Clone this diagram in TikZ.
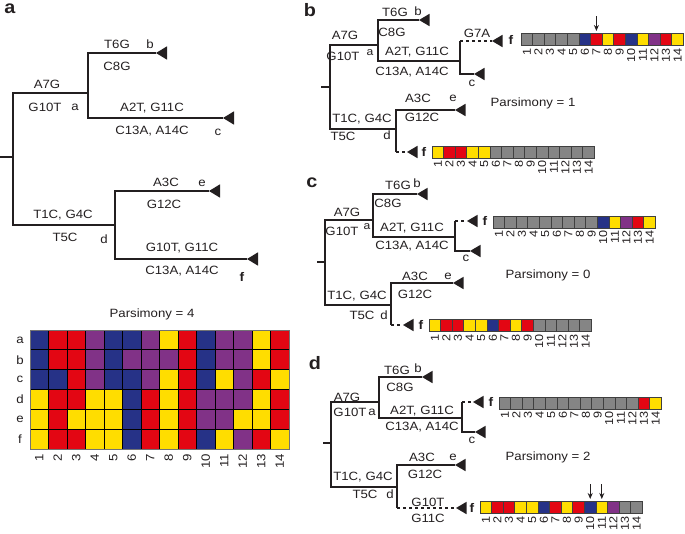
\documentclass[tikz,border=0pt]{standalone}
\usepackage{fontspec}
\setmainfont{Liberation Sans}[FakeStretch=1.1]
\usetikzlibrary{arrows.meta}
\definecolor{cB}{HTML}{263287}
\definecolor{cR}{HTML}{E30613}
\definecolor{cP}{HTML}{813287}
\definecolor{cY}{HTML}{FFDD00}
\definecolor{cG}{HTML}{858585}
\definecolor{ink}{HTML}{231F20}
\tikzset{
  lbl/.style={inner sep=0pt, text=ink, font=\fontsize{12}{12}\selectfont},
  small/.style={inner sep=0pt, text=ink, font=\fontsize{11}{11}\selectfont},
  fl/.style={inner sep=0pt, text=ink, font=\fontsize{12.5}{12}\selectfont\bfseries},
  panel/.style={inner sep=0pt, text=ink, font=\fontsize{18}{18}\selectfont\bfseries},
  num/.style={inner sep=0pt, text=ink, font=\fontsize{11.5}{11}\selectfont},
  br/.style={draw=ink, line width=1.3pt},
  brd/.style={draw=ink, line width=1.1pt, dash pattern=on 3pt off 3pt},
  leafA/.pic={\fill[ink] (0,0) -- (11,-6.7) -- (11,6.7) -- cycle;},
  leafB/.pic={\fill[ink] (0,0) -- (10.5,-6.2) -- (10.5,6.2) -- cycle;},
  mut/.style={-{Stealth[length=6pt,width=5pt]}, draw=ink, line width=1pt}
}
\newcommand{\hmrow}[3]{%
  \node[lbl] (hm#2) at (20,{330+(#1-0.5)*19.9}) {#2};
  \foreach \c [count=\i] in {#3} {
    \path[draw=black, line width=0.9pt, fill=c\c] ({30+(\i-1)*18.5},{330+(#1-1)*19.9}) rectangle ++(18.5,19.9);
  }}
\newcommand{\seqstrip}[4]{%
  \foreach \c [count=\i] in {#4} {
    \path[draw=black!75, line width=0.7pt, fill=c\c] ({#2+(\i-1)*11.6},#3) rectangle ++(11.6,12);
    \node[num, rotate=90, anchor=east] (#1\i) at ({#2+(\i-0.5)*11.6},{#3+14.5}) {\i};
  }}
\begin{document}
\begin{tikzpicture}[x=1pt,y=-1pt]
\useasboundingbox (0,0) rectangle (685,533);

% ---------------- panel a ----------------
\node[panel] (pa) at (10,9) {a};
\coordinate (aS) at (0,157);
\coordinate (aR) at (13,157);
\coordinate (aA) at (88,93);
\coordinate (aD) at (115,225);
\coordinate (aB) at (156,53);
\coordinate (aC) at (223,118);
\coordinate (aE) at (209,191);
\coordinate (aF) at (247,259);
\draw[br] (aS) -- (aR);
\draw[br] (aA) -| (aR) |- (aD);
\draw[br] (aB) -| (aA) |- (aC);
\draw[br] (aE) -| (aD) |- (aF);
\pic at (aB) {leafA}; \pic at (aC) {leafA}; \pic at (aE) {leafA}; \pic at (aF) {leafA};
\node[lbl] (a1) at (117,44) {T6G};
\node[lbl] (a2) at (150,44) {b};
\node[lbl] (a3) at (117,66) {C8G};
\node[lbl] (a4) at (47,84) {A7G};
\node[lbl] (a5) at (45,107) {G10T};
\node[lbl] (a6) at (75,107) {a};
\node[lbl] (a7) at (152,108) {A2T, G11C};
\node[lbl] (a8) at (152,131) {C13A, A14C};
\node[lbl] (a9) at (218,132) {c};
\node[lbl] (a10) at (166,182) {A3C};
\node[lbl] (a11) at (202,183) {e};
\node[lbl] (a12) at (164,204) {G12C};
\node[lbl] (a13) at (63,215) {T1C, G4C};
\node[lbl] (a14) at (65,237) {T5C};
\node[lbl] (a15) at (104,239) {d};
\node[lbl] (a16) at (182,248) {G10T, G11C};
\node[lbl] (a17) at (182,271) {C13A, A14C};
\node[fl] (a18) at (242,277) {f};
\node[lbl] (a19) at (152,314) {Parsimony = 4};

% heatmap
\hmrow{1}{a}{B,R,R,P,B,B,P,Y,R,B,P,P,Y,R}
\hmrow{2}{b}{B,R,R,P,B,P,P,P,R,B,P,P,Y,R}
\hmrow{3}{c}{B,B,R,P,B,B,P,Y,R,B,Y,P,R,Y}
\hmrow{4}{d}{Y,R,R,Y,Y,B,R,Y,R,P,P,P,Y,R}
\hmrow{5}{e}{Y,R,Y,Y,Y,B,R,Y,R,P,P,Y,Y,R}
\hmrow{6}{f}{Y,R,R,Y,Y,B,R,Y,R,B,Y,P,R,Y}
\draw[draw=black!55, line width=1pt] (30,330) rectangle (289,449.4);
\foreach \i in {1,...,14} {
  \node[lbl, rotate=90, anchor=east] (hn\i) at ({30+(\i-0.5)*18.5},454) {\i};
}

% ---------------- panel b ----------------
\node[panel] (pb) at (310,10) {b};
\coordinate (bS) at (321,87);
\coordinate (bR) at (330,87);
\coordinate (bA) at (378,45);
\coordinate (bD) at (396,129);
\coordinate (bB) at (419,20);
\coordinate (bX) at (460,61);
\coordinate (bFc) at (460,41);
\coordinate (bF) at (492,41);
\coordinate (bC) at (474,74);
\coordinate (bE) at (455,110);
\coordinate (bDf) at (396,152);
\coordinate (bG) at (407,152);
\draw[br] (bS) -- (bR);
\draw[br] (bA) -| (bR) |- (bD);
\draw[br] (bB) -| (bA) |- (bX);
\draw[br] (bFc) -- (bX) |- (bC);
\draw[brd] (bFc) -- (bF);
\draw[br] (bE) -| (bD) -- (bDf);
\draw[brd] (bDf) -- (bG);
\pic at (bB) {leafB}; \pic at (bF) {leafB}; \pic at (bC) {leafB}; \pic at (bE) {leafB}; \pic at (bG) {leafB};
\node[lbl] (b1) at (395,12) {T6G};
\node[lbl] (b2) at (418,11) {b};
\node[lbl] (b3) at (392,32) {C8G};
\node[lbl] (b4) at (345,35) {A7G};
\node[lbl] (b5) at (343,56) {G10T};
\node[small] (b6) at (370,53) {a};
\node[lbl] (b7) at (417,52) {A2T, G11C};
\node[lbl] (b8) at (412,72) {C13A, A14C};
\node[lbl] (b9) at (472,83) {c};
\node[lbl] (b10) at (477,33) {G7A};
\node[lbl] (b11) at (418,98) {A3C};
\node[lbl] (b12) at (453,98) {e};
\node[lbl] (b13) at (422,117) {G12C};
\node[lbl] (b14) at (362,119) {T1C, G4C};
\node[lbl] (b15) at (343,136) {T5C};
\node[lbl] (b16) at (387,135) {d};
\node[lbl] (b17) at (533,103) {Parsimony = 1};
\node[fl] (b18) at (511,40) {f};
\node[fl] (b19) at (424,152) {f};
\seqstrip{bs}{521}{33.5}{G,G,G,G,G,B,R,Y,R,B,Y,P,R,Y}
\seqstrip{bt}{432}{146}{Y,R,R,Y,Y,G,G,G,G,G,G,G,G,G}
\coordinate (bm1) at ({521+6.5*11.6},16);
\coordinate (bm2) at ({521+6.5*11.6},31);
\draw[mut] (bm1) -- (bm2);

% ---------------- panel c ----------------
\node[panel] (pc) at (312,183) {c};
\coordinate (cS) at (317,262);
\coordinate (cR) at (325,262);
\coordinate (cA) at (373,220);
\coordinate (cD) at (391,305);
\coordinate (cB) at (417,194);
\coordinate (cX) at (455,237);
\coordinate (cFc) at (455,221);
\coordinate (cF) at (467,221);
\coordinate (cC) at (470,251);
\coordinate (cE) at (453,283);
\coordinate (cDf) at (391,325);
\coordinate (cG) at (403,325);
\draw[br] (cS) -- (cR);
\draw[br] (cA) -| (cR) |- (cD);
\draw[br] (cB) -| (cA) |- (cX);
\draw[br] (cFc) -- (cX) |- (cC);
\draw[brd] (cFc) -- (cF);
\draw[br] (cE) -| (cD) -- (cDf);
\draw[brd] (cDf) -- (cG);
\pic at (cB) {leafB}; \pic at (cF) {leafB}; \pic at (cC) {leafB}; \pic at (cE) {leafB}; \pic at (cG) {leafB};
\node[lbl] (c1) at (398,185) {T6G};
\node[lbl] (c2) at (417,183) {b};
\node[lbl] (c3) at (388,203) {C8G};
\node[lbl] (c4) at (347,212) {A7G};
\node[lbl] (c5) at (342,231) {G10T};
\node[small] (c6) at (367,227) {a};
\node[lbl] (c7) at (412,228) {A2T, G11C};
\node[lbl] (c8) at (412,246) {C13A, A14C};
\node[lbl] (c9) at (466,258) {c};
\node[lbl] (c10) at (415,276) {A3C};
\node[lbl] (c11) at (448,276) {e};
\node[lbl] (c12) at (415,294) {G12C};
\node[lbl] (c13) at (357,296) {T1C, G4C};
\node[lbl] (c14) at (362,315) {T5C};
\node[lbl] (c15) at (384,315) {d};
\node[lbl] (c16) at (548,275) {Parsimony = 0};
\node[fl] (c17) at (485,221) {f};
\node[fl] (c18) at (421,325) {f};
\seqstrip{cs}{493}{216}{G,G,G,G,G,G,G,G,G,B,Y,P,R,Y}
\seqstrip{ct}{429}{319.5}{Y,R,R,Y,Y,B,R,Y,R,G,G,G,G,G}

% ---------------- panel d ----------------
\node[panel] (pd) at (315,363) {d};
\coordinate (dS) at (323,443);
\coordinate (dR) at (331,443);
\coordinate (dA) at (379,402);
\coordinate (dD) at (397,487);
\coordinate (dB) at (422,377);
\coordinate (dX) at (462,418);
\coordinate (dFc) at (462,402);
\coordinate (dF) at (473,402);
\coordinate (dC) at (475,432);
\coordinate (dE) at (455,465);
\coordinate (dDf) at (397,508);
\coordinate (dG) at (456,508);
\draw[br] (dS) -- (dR);
\draw[br] (dA) -| (dR) |- (dD);
\draw[br] (dB) -| (dA) |- (dX);
\draw[br] (dFc) -- (dX) |- (dC);
\draw[brd] (dFc) -- (dF);
\draw[br] (dE) -| (dD) -- (dDf);
\draw[brd] (dDf) -- (dG);
\pic at (dB) {leafB}; \pic at (dF) {leafB}; \pic at (dC) {leafB}; \pic at (dE) {leafB}; \pic at (dG) {leafB};
\node[lbl] (d1) at (397,370) {T6G};
\node[lbl] (d2) at (418,368) {b};
\node[lbl] (d3) at (400,387) {C8G};
\node[lbl] (d4) at (347,397) {A7G};
\node[lbl] (d5) at (350,412) {G10T};
\node[lbl] (d6) at (372,412) {a};
\node[lbl] (d7) at (422,411) {A2T, G11C};
\node[lbl] (d8) at (422,427) {C13A, A14C};
\node[lbl] (d9) at (472,440) {c};
\node[lbl] (d10) at (422,457) {A3C};
\node[lbl] (d11) at (453,457) {e};
\node[lbl] (d12) at (425,474) {G12C};
\node[lbl] (d13) at (363,477) {T1C, G4C};
\node[lbl] (d14) at (365,494) {T5C};
\node[lbl] (d15) at (390,494) {d};
\node[lbl] (d16) at (428,502) {G10T};
\node[lbl] (d17) at (428,518) {G11C};
\node[lbl] (d18) at (548,457) {Parsimony = 2};
\node[fl] (d19) at (491,402) {f};
\node[fl] (d20) at (472,508) {f};
\seqstrip{ds}{499}{397}{G,G,G,G,G,G,G,G,G,G,G,G,R,Y}
\seqstrip{dt}{480}{501.5}{Y,R,R,Y,Y,B,R,Y,R,B,Y,P,G,G}
\coordinate (dm1) at ({480+9.5*11.6},484);
\coordinate (dm2) at ({480+9.5*11.6},499);
\coordinate (dm3) at ({480+10.5*11.6},484);
\coordinate (dm4) at ({480+10.5*11.6},499);
\draw[mut] (dm1) -- (dm2);
\draw[mut] (dm3) -- (dm4);
\end{tikzpicture}
\end{document}
